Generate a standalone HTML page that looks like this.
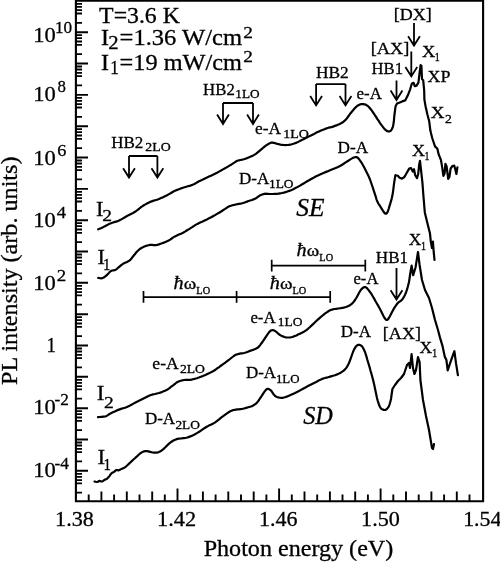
<!DOCTYPE html>
<html><head><meta charset="utf-8"><title>PL intensity vs photon energy</title>
<style>
html,body{margin:0;padding:0;background:#fff}
svg{display:block}
text{font-family:"Liberation Serif","DejaVu Serif",serif;fill:#000;stroke:#000;stroke-width:0.3px}
</style></head><body>
<svg width="500" height="562" viewBox="0 0 500 562">
<rect width="500" height="562" fill="#fff"/>
<path d="M98.2,229.3 L99.0,229.0 L100.1,228.5 L101.5,227.9 L103.0,227.2 L104.8,226.3 L106.8,225.2 L108.9,224.1 L111.0,223.2 L113.0,222.5 L115.0,221.9 L117.0,221.4 L119.0,220.6 L121.0,219.6 L123.0,218.4 L125.0,217.2 L127.0,216.0 L129.0,215.0 L131.0,214.0 L133.0,213.0 L135.0,211.8 L137.0,210.4 L139.0,208.8 L141.0,207.2 L143.0,205.8 L145.0,204.6 L147.0,203.5 L149.0,202.5 L151.0,201.6 L153.0,200.9 L155.0,200.3 L157.0,199.7 L159.0,199.0 L161.0,198.1 L163.0,197.2 L165.0,196.2 L167.0,195.2 L169.0,194.1 L171.0,193.0 L173.0,191.8 L175.0,190.8 L177.0,189.9 L178.9,189.2 L180.9,188.4 L183.0,187.7 L185.4,187.0 L187.9,186.3 L190.4,185.6 L192.6,184.8 L194.4,184.0 L195.9,183.1 L197.4,182.2 L199.0,181.3 L200.9,180.4 L202.9,179.5 L205.0,178.5 L207.0,177.6 L209.0,176.6 L211.0,175.7 L213.0,174.7 L215.0,173.7 L217.0,172.7 L219.0,171.6 L221.0,170.5 L223.0,169.4 L225.0,168.3 L227.1,167.1 L229.1,165.9 L231.0,164.8 L232.7,163.7 L234.3,162.6 L235.8,161.6 L237.4,160.8 L239.0,160.3 L240.6,160.0 L242.2,159.7 L243.8,159.3 L245.4,158.7 L247.1,158.1 L248.7,157.4 L250.2,156.8 L251.5,156.2 L252.7,155.7 L253.8,155.1 L255.0,154.4 L256.2,153.6 L257.4,152.6 L258.6,151.6 L259.8,150.6 L261.0,149.6 L262.2,148.6 L263.4,147.5 L264.6,146.6 L265.8,145.7 L267.1,144.8 L268.3,144.0 L269.4,143.4 L270.3,143.0 L271.0,142.7 L271.7,142.6 L272.6,142.6 L273.7,142.8 L274.8,143.1 L276.1,143.5 L277.4,143.9 L278.9,144.2 L280.5,144.6 L282.2,144.8 L283.8,145.0 L285.4,145.1 L287.0,145.0 L288.6,144.9 L290.2,144.7 L291.8,144.3 L293.4,143.8 L295.0,143.2 L296.6,142.6 L298.2,141.9 L299.7,141.1 L301.3,140.3 L303.0,139.4 L304.9,138.5 L306.9,137.5 L309.0,136.4 L311.0,135.4 L313.0,134.4 L315.0,133.4 L317.0,132.3 L319.0,131.4 L321.0,130.5 L323.1,129.7 L325.1,128.9 L327.0,128.2 L328.6,127.7 L330.0,127.4 L331.4,127.1 L333.0,126.6 L334.9,125.9 L337.1,125.1 L339.2,124.2 L341.0,123.3 L342.4,122.5 L343.6,121.6 L344.7,120.7 L345.8,119.6 L347.0,118.2 L348.2,116.5 L349.4,114.8 L350.6,113.2 L351.8,111.7 L353.1,110.2 L354.3,108.8 L355.4,107.6 L356.5,106.6 L357.4,105.8 L358.4,105.2 L359.4,104.7 L360.4,104.3 L361.4,104.1 L362.4,104.0 L363.4,104.1 L364.4,104.3 L365.4,104.6 L366.4,105.1 L367.4,105.7 L368.4,106.5 L369.3,107.5 L370.3,108.7 L371.4,110.0 L372.5,111.6 L373.7,113.4 L375.0,115.3 L376.2,117.2 L377.4,119.1 L378.7,120.9 L379.9,122.8 L381.0,124.4 L382.1,125.9 L383.1,127.2 L384.1,128.4 L385.0,129.4 L385.9,130.2 L386.7,130.8 L387.4,131.2 L388.2,131.4 L389.0,131.4 L389.8,131.3 L390.5,130.9 L391.2,130.2 L391.8,129.3 L392.4,128.1 L392.9,126.6 L393.3,124.8 L393.7,122.5 L394.0,119.8 L394.2,117.0 L394.5,114.5 L394.8,112.1 L395.1,109.7 L395.4,107.6 L395.6,106.2 L397.0,103.6 L399.8,102.4 L402.2,101.4 L405.2,100.4 L407.6,95.8 L410.0,89.8 L411.8,83.8 L413.6,82.8 L414.8,86.2 L416.6,85.6 L418.4,82.6 L419.6,73.0 L420.6,65.2 L421.4,65.8 L422.0,79.0 L423.2,80.2 L424.2,91.0 L424.4,99.6 L425.6,106.5 L427.4,114.5 L429.2,121.2 L430.4,130.8 L432.2,138.0 L433.2,141.0 L435.0,146.4 L437.4,148.8 L438.6,154.2 L441.0,160.2 L442.2,167.4 L443.4,175.8 L444.6,173.4 L445.4,163.8 L446.6,166.2 L448.2,178.8 L449.4,177.0 L450.6,168.6 L452.4,166.0 L454.2,165.6 L455.4,169.8 L456.4,174.0 L457.4,167.4" fill="none" stroke="#000" stroke-width="2.2" stroke-linejoin="round" stroke-linecap="round"/>
<path d="M98.2,277.9 L98.9,278.0 L100.0,278.2 L101.1,278.3 L102.2,278.2 L103.2,277.8 L104.1,277.3 L105.1,276.5 L106.2,275.7 L107.3,274.6 L108.6,273.3 L109.8,272.0 L111.0,271.0 L112.2,270.5 L113.4,270.3 L114.6,270.1 L115.8,269.7 L117.0,268.8 L118.2,267.7 L119.5,266.6 L120.6,265.6 L121.6,264.8 L122.6,264.1 L123.6,263.5 L124.6,262.9 L125.8,262.4 L127.0,261.9 L128.2,261.3 L129.4,260.6 L130.5,259.6 L131.5,258.5 L132.4,257.2 L133.4,256.0 L134.4,254.8 L135.4,253.5 L136.4,252.3 L137.4,251.2 L138.4,250.3 L139.4,249.4 L140.3,248.7 L141.4,248.0 L142.5,247.4 L143.8,246.8 L145.0,246.3 L146.2,245.9 L147.4,245.5 L148.6,245.2 L149.8,244.9 L151.0,244.8 L152.2,244.9 L153.3,245.1 L154.5,245.2 L155.8,245.2 L157.3,244.9 L158.9,244.4 L160.6,243.8 L162.2,243.2 L163.8,242.6 L165.4,242.0 L167.0,241.3 L168.6,240.5 L170.2,239.6 L171.7,238.5 L173.3,237.4 L175.0,236.4 L176.9,235.5 L178.9,234.6 L181.0,233.7 L183.0,232.7 L185.0,231.6 L187.1,230.3 L189.1,229.1 L191.0,227.9 L192.6,226.9 L194.1,225.9 L195.6,224.9 L197.4,223.9 L199.6,222.8 L202.1,221.7 L204.6,220.5 L207.0,219.4 L209.1,218.3 L211.1,217.3 L213.0,216.2 L215.0,215.1 L217.0,213.9 L219.1,212.7 L221.1,211.5 L223.0,210.3 L224.7,209.2 L226.3,208.1 L227.8,207.1 L229.4,206.3 L231.0,205.7 L232.6,205.2 L234.2,204.9 L235.8,204.5 L237.4,204.2 L239.0,203.9 L240.6,203.7 L242.2,203.3 L243.8,202.8 L245.4,202.2 L247.0,201.6 L248.6,201.0 L250.2,200.5 L251.9,200.0 L253.5,199.4 L255.0,198.8 L256.3,198.0 L257.5,197.2 L258.6,196.3 L259.8,195.6 L261.0,195.0 L262.2,194.5 L263.4,194.1 L264.6,193.8 L265.7,193.7 L266.9,193.8 L268.0,193.9 L269.4,194.0 L271.0,194.0 L272.8,194.0 L274.7,193.9 L276.6,193.8 L278.4,193.6 L280.2,193.3 L282.0,193.0 L283.8,192.6 L285.6,192.1 L287.4,191.5 L289.2,190.9 L291.0,190.2 L292.8,189.4 L294.6,188.5 L296.4,187.6 L298.2,186.6 L300.0,185.6 L301.8,184.5 L303.6,183.5 L305.4,182.4 L307.2,181.3 L309.0,180.3 L310.8,179.2 L312.6,178.2 L314.4,177.3 L316.1,176.3 L318.0,175.4 L320.0,174.5 L322.3,173.5 L324.8,172.4 L327.4,171.4 L330.0,170.3 L332.5,169.3 L335.0,168.3 L337.5,167.2 L340.0,166.0 L342.6,164.5 L345.3,162.7 L347.9,161.0 L350.0,159.6 L351.6,158.6 L352.9,157.9 L354.0,157.5 L355.0,157.2 L355.9,157.1 L356.6,157.1 L357.2,157.4 L358.0,158.0 L358.9,159.0 L359.9,160.3 L361.0,161.9 L362.0,163.5 L363.0,165.2 L364.0,167.1 L365.0,169.0 L366.0,171.0 L367.0,172.9 L367.9,174.8 L368.9,176.9 L370.0,179.5 L371.2,183.0 L372.6,187.0 L373.9,191.1 L375.0,194.4 L375.8,196.8 L376.3,198.6 L376.8,200.1 L377.4,201.6 L378.2,203.2 L379.1,204.7 L380.1,206.2 L381.0,207.6 L381.9,209.1 L382.9,210.7 L383.8,212.0 L384.6,213.0 L385.3,213.5 L385.9,213.8 L386.4,213.6 L387.0,213.0 L387.6,211.9 L388.2,210.4 L388.8,208.5 L389.4,206.4 L390.1,204.1 L390.9,201.4 L391.7,198.6 L392.4,195.6 L392.9,192.3 L393.4,188.8 L393.8,185.3 L394.2,182.4 L394.6,180.0 L394.9,178.0 L395.2,176.4 L395.4,175.2 L397.8,175.8 L399.6,177.8 L402.0,178.6 L404.4,177.0 L406.8,172.8 L409.2,168.6 L411.0,168.0 L412.8,171.6 L414.0,169.2 L415.2,175.2 L417.0,178.2 L418.2,174.0 L419.2,164.4 L420.0,160.8 L421.2,171.6 L422.4,182.4 L423.6,198.0 L424.8,212.4 L427.6,224.0 L430.0,233.6 L430.8,241.6 L432.0,248.0 L432.9,241.6 L433.5,249.6 L434.5,260.0" fill="none" stroke="#000" stroke-width="2.2" stroke-linejoin="round" stroke-linecap="round"/>
<path d="M98.0,417.2 L98.7,417.1 L99.8,417.0 L100.9,416.9 L102.0,416.8 L103.0,416.7 L103.9,416.7 L104.9,416.5 L106.0,416.2 L107.1,415.6 L108.2,414.9 L109.5,414.0 L111.0,413.2 L112.8,412.3 L114.8,411.4 L116.9,410.4 L119.0,409.6 L121.0,408.9 L123.0,408.3 L125.0,407.7 L127.0,407.0 L129.0,406.1 L131.0,405.0 L133.0,403.9 L135.0,402.8 L137.0,401.8 L139.0,400.8 L141.0,399.8 L143.0,398.8 L145.0,397.8 L147.0,396.8 L149.0,395.8 L151.0,395.0 L153.0,394.4 L155.0,394.0 L157.0,393.5 L159.0,393.0 L161.0,392.4 L163.0,391.6 L165.0,390.8 L167.0,389.8 L169.1,388.4 L171.3,386.7 L173.4,385.1 L175.0,383.8 L176.0,383.0 L176.6,382.5 L177.2,382.2 L178.0,381.8 L179.3,381.3 L180.8,380.8 L182.4,380.3 L184.0,380.0 L185.5,379.9 L187.0,379.9 L188.5,379.9 L190.0,379.8 L191.5,379.6 L193.0,379.2 L194.5,378.9 L195.8,378.5 L197.0,378.2 L198.0,377.8 L199.0,377.5 L200.0,377.1 L201.0,376.7 L201.9,376.4 L202.9,376.0 L204.0,375.5 L205.4,374.9 L206.9,374.2 L208.5,373.5 L210.0,372.8 L211.3,372.1 L212.6,371.5 L213.8,370.8 L215.0,370.0 L216.2,369.2 L217.5,368.2 L218.8,367.3 L220.0,366.4 L221.2,365.5 L222.5,364.6 L223.8,363.7 L225.0,362.8 L226.2,361.9 L227.5,360.9 L228.8,360.0 L230.0,359.0 L231.2,358.0 L232.5,357.0 L233.8,356.0 L235.0,355.2 L236.3,354.6 L237.6,354.2 L238.8,353.9 L240.0,353.6 L241.0,353.4 L241.8,353.4 L242.7,353.3 L244.0,353.0 L245.8,352.5 L247.9,351.7 L250.0,350.9 L252.0,350.2 L253.7,349.6 L255.2,349.0 L256.7,348.3 L258.0,347.5 L259.1,346.4 L260.1,345.2 L261.0,343.9 L262.0,342.5 L263.0,341.1 L264.0,339.6 L265.0,338.1 L266.0,336.6 L267.0,335.1 L268.1,333.6 L269.1,332.2 L270.0,331.2 L270.8,330.6 L271.6,330.3 L272.3,330.2 L273.0,330.2 L273.7,330.3 L274.4,330.6 L275.2,331.1 L276.0,331.6 L276.9,332.3 L277.8,333.2 L278.8,334.2 L280.0,335.0 L281.4,335.7 L282.9,336.4 L284.5,337.0 L286.0,337.4 L287.5,337.5 L289.0,337.5 L290.5,337.3 L292.0,337.0 L293.5,336.6 L294.9,336.0 L296.4,335.4 L298.0,334.6 L299.9,333.7 L301.9,332.8 L304.0,331.7 L306.0,330.4 L308.0,328.8 L310.0,327.0 L312.0,325.1 L314.0,323.2 L316.0,321.3 L318.1,319.4 L320.1,317.6 L322.0,316.0 L323.7,314.6 L325.2,313.4 L326.7,312.4 L328.0,311.5 L329.1,310.8 L330.1,310.3 L331.0,309.9 L332.0,309.6 L332.9,309.3 L333.6,309.2 L334.6,309.0 L336.0,308.8 L338.2,308.5 L340.9,308.1 L343.6,307.6 L346.0,307.0 L347.8,306.3 L349.4,305.5 L350.7,304.6 L352.0,303.6 L353.1,302.5 L354.1,301.3 L355.0,300.0 L356.0,298.5 L357.0,296.7 L358.1,294.7 L359.1,292.8 L360.0,291.2 L360.8,290.0 L361.6,289.1 L362.3,288.4 L363.0,287.8 L363.7,287.4 L364.3,287.1 L365.0,287.1 L365.6,287.2 L366.2,287.5 L366.7,287.9 L367.3,288.5 L368.0,289.4 L368.9,290.5 L369.9,291.9 L371.0,293.4 L372.0,295.0 L373.0,296.7 L374.0,298.4 L375.0,300.2 L376.0,302.0 L377.0,303.7 L378.0,305.4 L379.0,307.2 L380.0,309.0 L381.0,311.0 L382.1,313.2 L383.1,315.3 L384.0,317.0 L384.8,318.3 L385.6,319.2 L386.3,319.9 L387.0,320.0 L387.7,319.6 L388.4,318.7 L389.2,317.4 L390.0,316.0 L390.9,314.3 L391.9,312.3 L393.0,310.2 L394.0,308.4 L395.0,306.8 L396.0,305.3 L397.0,304.0 L398.0,302.8 L399.0,302.0 L400.0,301.4 L401.0,300.8 L402.0,299.8 L403.0,298.4 L404.1,296.6 L405.1,294.7 L406.0,292.5 L406.9,289.9 L407.8,286.8 L408.5,284.0 L409.0,282.0 L410.5,272.0 L411.6,265.6 L413.2,275.2 L415.6,267.2 L418.0,252.0 L419.6,265.0 L422.0,280.0 L425.0,290.0 L429.0,298.0 L432.0,308.0 L435.0,320.0 L438.0,330.0 L440.0,337.6 L442.4,345.6 L444.8,356.8 L446.4,360.0 L447.7,370.4 L451.2,360.0 L454.4,351.2 L456.0,363.2 L457.9,375.2" fill="none" stroke="#000" stroke-width="2.2" stroke-linejoin="round" stroke-linecap="round"/>
<path d="M94.5,481.5 L95.0,481.6 L95.7,481.8 L96.5,482.0 L97.2,482.0 L97.8,481.8 L98.4,481.4 L99.0,481.1 L99.6,480.9 L100.2,481.0 L100.8,481.2 L101.4,481.5 L102.0,481.5 L102.6,481.2 L103.2,480.8 L103.8,480.3 L104.4,479.9 L105.0,479.6 L105.6,479.4 L106.2,479.2 L106.8,478.8 L107.4,478.3 L108.0,477.7 L108.6,477.1 L109.2,476.4 L109.8,475.6 L110.4,474.7 L111.0,473.9 L111.6,473.2 L112.2,472.8 L112.8,472.5 L113.4,472.2 L114.0,471.9 L114.6,471.4 L115.2,470.8 L115.8,470.3 L116.4,470.0 L117.0,470.0 L117.6,470.1 L118.1,470.3 L118.8,470.3 L119.5,470.0 L120.3,469.6 L121.2,469.1 L122.0,468.7 L122.8,468.4 L123.5,468.1 L124.3,467.7 L125.2,467.1 L126.2,466.3 L127.4,465.2 L128.6,464.1 L130.0,462.8 L131.5,461.4 L133.2,459.8 L134.9,458.3 L136.4,456.9 L137.7,455.7 L138.9,454.5 L140.1,453.5 L141.2,452.7 L142.3,452.1 L143.2,451.6 L144.2,451.3 L145.2,451.1 L146.2,451.1 L147.1,451.2 L148.1,451.4 L149.2,451.6 L150.3,451.9 L151.5,452.2 L152.8,452.5 L154.0,452.7 L155.2,452.7 L156.4,452.7 L157.6,452.5 L158.8,452.1 L160.0,451.6 L161.1,450.8 L162.3,450.0 L163.6,448.9 L165.1,447.5 L166.7,445.9 L168.4,444.2 L170.0,442.8 L171.5,441.7 L173.0,440.8 L174.5,440.0 L176.0,439.4 L177.5,438.9 L179.1,438.7 L180.6,438.5 L182.0,438.3 L183.1,438.2 L184.1,438.1 L185.0,438.0 L186.0,437.8 L187.2,437.5 L188.4,437.1 L189.7,436.6 L190.8,436.2 L191.7,435.9 L192.4,435.6 L193.1,435.2 L194.0,434.8 L195.0,434.3 L196.1,433.6 L197.3,432.9 L198.8,432.0 L200.6,430.8 L202.6,429.4 L204.7,428.0 L206.8,426.7 L208.8,425.6 L210.8,424.7 L212.8,423.7 L214.8,422.6 L216.8,421.2 L218.8,419.6 L220.8,417.9 L222.8,416.4 L224.9,414.9 L227.0,413.4 L229.0,412.0 L230.8,411.0 L232.3,410.4 L233.5,410.0 L234.7,409.8 L236.0,409.6 L237.4,409.4 L238.8,409.4 L240.3,409.2 L242.0,409.0 L244.0,408.5 L246.2,407.9 L248.3,407.3 L250.0,406.8 L251.1,406.5 L251.8,406.3 L252.3,406.0 L253.0,405.6 L253.9,405.0 L254.9,404.4 L256.0,403.6 L257.0,402.6 L258.0,401.4 L259.0,400.0 L260.0,398.4 L261.0,397.0 L261.9,395.6 L262.8,394.1 L263.7,392.8 L264.5,391.6 L265.3,390.6 L266.1,389.8 L266.8,389.1 L267.6,388.8 L268.4,388.9 L269.3,389.3 L270.2,389.9 L271.0,390.6 L271.8,391.5 L272.5,392.7 L273.3,393.8 L274.0,394.8 L274.7,395.5 L275.3,396.1 L276.0,396.6 L277.0,397.0 L278.2,397.4 L279.7,397.7 L281.3,397.9 L283.0,397.8 L284.9,397.3 L286.9,396.6 L289.0,395.7 L291.0,394.8 L293.0,393.9 L295.0,393.0 L297.0,392.0 L299.0,391.0 L301.0,389.9 L303.0,388.8 L305.0,387.7 L307.0,386.6 L309.0,385.6 L311.1,384.5 L313.1,383.5 L315.0,382.6 L316.7,381.7 L318.2,380.8 L319.7,380.1 L321.0,379.4 L322.1,378.9 L323.0,378.6 L323.9,378.3 L325.0,378.0 L326.3,377.6 L327.8,377.3 L329.3,376.9 L331.0,376.4 L332.9,375.8 L335.0,375.2 L337.1,374.4 L339.0,373.6 L340.7,372.7 L342.2,371.7 L343.7,370.6 L345.0,369.4 L346.1,368.1 L347.1,366.6 L348.0,365.0 L349.0,363.0 L350.0,360.4 L351.1,357.4 L352.1,354.5 L353.0,352.0 L353.8,350.1 L354.6,348.6 L355.3,347.4 L356.0,346.4 L356.8,345.6 L357.5,345.1 L358.2,344.9 L359.0,344.8 L359.8,344.9 L360.5,345.2 L361.2,345.6 L362.0,346.4 L362.8,347.4 L363.5,348.7 L364.2,350.2 L365.0,352.0 L365.7,354.1 L366.5,356.6 L367.2,359.3 L368.0,362.0 L368.9,364.9 L369.8,367.9 L370.6,371.0 L371.5,374.0 L372.3,377.0 L373.1,380.0 L373.8,383.0 L374.5,386.0 L375.1,389.1 L375.8,392.2 L376.4,395.2 L377.0,398.0 L377.7,400.6 L378.5,403.1 L379.2,405.3 L380.0,407.0 L380.8,408.2 L381.5,408.9 L382.2,409.3 L383.0,409.6 L383.8,409.9 L384.5,410.0 L385.2,409.9 L386.0,409.6 L386.8,409.0 L387.6,408.2 L388.3,407.2 L389.0,406.0 L389.6,404.3 L390.2,402.3 L390.7,400.3 L391.0,399.0 L392.4,389.0 L395.0,385.0 L398.0,381.0 L401.0,378.0 L404.0,374.0 L407.0,365.0 L409.0,363.0 L410.0,368.0 L411.6,354.0 L413.0,368.0 L414.4,374.0 L416.0,370.0 L418.0,357.0 L419.6,362.0 L420.4,380.0 L423.0,400.0 L426.0,416.0 L429.0,430.0 L431.0,442.0 L432.0,448.0 L433.0,449.0 L434.0,444.0" fill="none" stroke="#000" stroke-width="2.2" stroke-linejoin="round" stroke-linecap="round"/>
<path d="M75.9,501.3 V0.8 H483.1 V501.3 Z" fill="none" stroke="#000" stroke-width="2.1" stroke-linejoin="miter"/>
<path d="M76,470.8 H88 M76,439.5 H88 M76,408.2 H88 M76,376.8 H88 M76,345.5 H88 M76,314.2 H88 M76,282.8 H88 M76,251.5 H88 M76,220.2 H88 M76,188.9 H88 M76,157.5 H88 M76,126.2 H88 M76,94.9 H88 M76,63.5 H88 M76,32.2 H88" stroke="#000" stroke-width="1.9" fill="none"/>
<path d="M76,473.8 H82 M76,476.8 H82 M76,480.1 H82 M76,483.4 H82 M76,492.7 H82 M76,442.5 H82 M76,445.5 H82 M76,448.8 H82 M76,452.1 H82 M76,461.4 H82 M76,411.2 H82 M76,414.2 H82 M76,417.5 H82 M76,420.8 H82 M76,430.1 H82 M76,379.8 H82 M76,382.8 H82 M76,386.1 H82 M76,389.4 H82 M76,398.7 H82 M76,348.5 H82 M76,351.5 H82 M76,354.8 H82 M76,358.1 H82 M76,367.4 H82 M76,317.2 H82 M76,320.2 H82 M76,323.5 H82 M76,326.8 H82 M76,336.1 H82 M76,285.8 H82 M76,288.8 H82 M76,292.1 H82 M76,295.4 H82 M76,304.7 H82 M76,254.5 H82 M76,257.5 H82 M76,260.8 H82 M76,264.1 H82 M76,273.4 H82 M76,223.2 H82 M76,226.2 H82 M76,229.5 H82 M76,232.8 H82 M76,242.1 H82 M76,191.9 H82 M76,194.9 H82 M76,198.2 H82 M76,201.5 H82 M76,210.8 H82 M76,160.5 H82 M76,163.5 H82 M76,166.8 H82 M76,170.1 H82 M76,179.4 H82 M76,129.2 H82 M76,132.2 H82 M76,135.5 H82 M76,138.8 H82 M76,148.1 H82 M76,97.9 H82 M76,100.9 H82 M76,104.2 H82 M76,107.5 H82 M76,116.8 H82 M76,66.5 H82 M76,69.5 H82 M76,72.8 H82 M76,76.1 H82 M76,85.4 H82 M76,35.2 H82 M76,38.2 H82 M76,41.5 H82 M76,44.8 H82 M76,54.1 H82 M76,3.9 H82 M76,6.9 H82 M76,10.2 H82 M76,13.5 H82 M76,22.8 H82" stroke="#000" stroke-width="1.8" fill="none"/>
<path d="M88.7,501 V494.5 M101.4,501 V491.6 M114.1,501 V494.5 M126.8,501 V491.6 M139.5,501 V494.5 M152.2,501 V491.6 M164.8,501 V494.5 M177.5,501 V488.6 M190.2,501 V494.5 M202.9,501 V491.6 M215.6,501 V494.5 M228.3,501 V491.6 M241.0,501 V494.5 M253.7,501 V491.6 M266.4,501 V494.5 M279.1,501 V488.6 M291.8,501 V494.5 M304.5,501 V491.6 M317.2,501 V494.5 M329.9,501 V491.6 M342.5,501 V494.5 M355.2,501 V491.6 M367.9,501 V494.5 M380.6,501 V488.6 M393.3,501 V494.5 M406.0,501 V491.6 M418.7,501 V494.5 M431.4,501 V491.6 M444.1,501 V494.5 M456.8,501 V491.6 M469.5,501 V494.5" stroke="#000" stroke-width="1.9" fill="none"/>
<text x="55.11" y="525.90" font-size="22" textLength="38.77" lengthAdjust="spacingAndGlyphs">1.38</text>
<text x="157.09" y="525.90" font-size="22" textLength="39.18" lengthAdjust="spacingAndGlyphs">1.42</text>
<text x="259.12" y="525.90" font-size="22" textLength="38.50" lengthAdjust="spacingAndGlyphs">1.46</text>
<text x="361.11" y="525.90" font-size="22" textLength="38.77" lengthAdjust="spacingAndGlyphs">1.50</text>
<text x="463.14" y="525.90" font-size="22" textLength="38.23" lengthAdjust="spacingAndGlyphs">1.54</text>
<text x="203.67" y="556.00" font-size="24" textLength="189.60" lengthAdjust="spacingAndGlyphs">Photon energy (eV)</text>
<text x="33.18" y="41.80" font-size="22" textLength="22.51" lengthAdjust="spacingAndGlyphs">10</text>
<text x="55.03" y="32.60" font-size="17.5" textLength="17.19" lengthAdjust="spacingAndGlyphs">10</text>
<text x="33.18" y="100.80" font-size="22" textLength="22.51" lengthAdjust="spacingAndGlyphs">10</text>
<text x="57.40" y="91.50" font-size="17.5" textLength="8.40" lengthAdjust="spacingAndGlyphs">8</text>
<text x="33.18" y="165.00" font-size="22" textLength="22.51" lengthAdjust="spacingAndGlyphs">10</text>
<text x="57.22" y="156.00" font-size="17.5" textLength="9.10" lengthAdjust="spacingAndGlyphs">6</text>
<text x="33.18" y="226.80" font-size="22" textLength="22.51" lengthAdjust="spacingAndGlyphs">10</text>
<text x="56.80" y="217.80" font-size="17.5" textLength="9.26" lengthAdjust="spacingAndGlyphs">4</text>
<text x="33.18" y="289.50" font-size="22" textLength="22.51" lengthAdjust="spacingAndGlyphs">10</text>
<text x="56.76" y="280.50" font-size="17.5" textLength="9.45" lengthAdjust="spacingAndGlyphs">2</text>
<text x="33.18" y="414.00" font-size="22" textLength="22.51" lengthAdjust="spacingAndGlyphs">10</text>
<text x="54.58" y="404.80" font-size="17.5" textLength="14.35" lengthAdjust="spacingAndGlyphs">-2</text>
<text x="33.18" y="477.20" font-size="22" textLength="22.51" lengthAdjust="spacingAndGlyphs">10</text>
<text x="54.58" y="468.50" font-size="17.5" textLength="14.42" lengthAdjust="spacingAndGlyphs">-4</text>
<text x="46.38" y="352.20" font-size="22" textLength="9.50" lengthAdjust="spacingAndGlyphs">1</text>
<text transform="rotate(-90)" x="-384.93" y="17.3" font-size="24" textLength="228.40" lengthAdjust="spacingAndGlyphs">PL intensity (arb. units)</text>
<text x="99.11" y="23.30" font-size="22.6" textLength="80.74" lengthAdjust="spacingAndGlyphs">T=3.6 K</text>
<text x="101.02" y="44.90" font-size="22.6" textLength="7.99" lengthAdjust="spacingAndGlyphs">I</text>
<text x="108.26" y="49.20" font-size="18.5" textLength="10.36" lengthAdjust="spacingAndGlyphs">2</text>
<text x="119.58" y="44.90" font-size="22.6" textLength="122.44" lengthAdjust="spacingAndGlyphs">=1.36 W/cm</text>
<text x="243.21" y="38.00" font-size="17.3" textLength="9.66" lengthAdjust="spacingAndGlyphs">2</text>
<text x="101.02" y="69.50" font-size="22.6" textLength="7.99" lengthAdjust="spacingAndGlyphs">I</text>
<text x="110.30" y="74.30" font-size="18.5" textLength="8.54" lengthAdjust="spacingAndGlyphs">1</text>
<text x="119.59" y="69.50" font-size="22.6" textLength="122.32" lengthAdjust="spacingAndGlyphs">=19 mW/cm</text>
<text x="243.21" y="62.30" font-size="17.3" textLength="9.66" lengthAdjust="spacingAndGlyphs">2</text>
<text x="111.20" y="147.50" font-size="17" textLength="32.17" lengthAdjust="spacingAndGlyphs">HB2</text>
<text x="145.32" y="151.00" font-size="12" textLength="25.35" lengthAdjust="spacingAndGlyphs">2LO</text>
<text x="203.11" y="95.00" font-size="17" textLength="31.75" lengthAdjust="spacingAndGlyphs">HB2</text>
<text x="235.30" y="98.00" font-size="12" textLength="24.25" lengthAdjust="spacingAndGlyphs">1LO</text>
<text x="315.99" y="78.10" font-size="17" textLength="32.80" lengthAdjust="spacingAndGlyphs">HB2</text>
<text x="356.58" y="99.40" font-size="17" textLength="25.33" lengthAdjust="spacingAndGlyphs">e-A</text>
<text x="255.06" y="134.30" font-size="17" textLength="25.95" lengthAdjust="spacingAndGlyphs">e-A</text>
<text x="283.33" y="137.90" font-size="12" textLength="25.64" lengthAdjust="spacingAndGlyphs">1LO</text>
<text x="239.00" y="183.80" font-size="17" textLength="30.29" lengthAdjust="spacingAndGlyphs">D-A</text>
<text x="268.98" y="188.30" font-size="12" textLength="24.57" lengthAdjust="spacingAndGlyphs">1LO</text>
<text x="337.49" y="153.00" font-size="17" textLength="30.60" lengthAdjust="spacingAndGlyphs">D-A</text>
<text x="421.99" y="56.60" font-size="17" textLength="13.31" lengthAdjust="spacingAndGlyphs">X</text>
<text x="434.65" y="60.80" font-size="11.8" textLength="4.99" lengthAdjust="spacingAndGlyphs">1</text>
<text x="427.61" y="82.40" font-size="17" textLength="22.87" lengthAdjust="spacingAndGlyphs">XP</text>
<text x="430.72" y="118.40" font-size="17" textLength="13.75" lengthAdjust="spacingAndGlyphs">X</text>
<text x="445.04" y="123.40" font-size="12.3" textLength="6.86" lengthAdjust="spacingAndGlyphs">2</text>
<text x="412.10" y="156.00" font-size="17" textLength="13.10" lengthAdjust="spacingAndGlyphs">X</text>
<text x="424.60" y="160.40" font-size="11.8" textLength="4.99" lengthAdjust="spacingAndGlyphs">1</text>
<text x="393.67" y="20.00" font-size="17" textLength="38.06" lengthAdjust="spacingAndGlyphs">[DX]</text>
<text x="370.65" y="54.00" font-size="17" textLength="38.70" lengthAdjust="spacingAndGlyphs">[AX]</text>
<text x="371.51" y="74.00" font-size="17" textLength="31.46" lengthAdjust="spacingAndGlyphs">HB1</text>
<text x="296.24" y="216.40" font-size="24.3" font-style="italic" textLength="28.22" lengthAdjust="spacingAndGlyphs">SE</text>
<text x="96.03" y="215.60" font-size="21.7" textLength="7.43" lengthAdjust="spacingAndGlyphs">I</text>
<text x="102.24" y="220.90" font-size="17.5" textLength="9.80" lengthAdjust="spacingAndGlyphs">2</text>
<text x="97.53" y="263.60" font-size="21.7" textLength="7.43" lengthAdjust="spacingAndGlyphs">I</text>
<text x="103.12" y="269.70" font-size="17.5" textLength="7.44" lengthAdjust="spacingAndGlyphs">1</text>
<text x="375.80" y="263.30" font-size="17" textLength="32.30" lengthAdjust="spacingAndGlyphs">HB1</text>
<text x="408.82" y="245.30" font-size="17" textLength="12.57" lengthAdjust="spacingAndGlyphs">X</text>
<text x="420.95" y="249.50" font-size="11.8" textLength="4.99" lengthAdjust="spacingAndGlyphs">1</text>
<text x="353.49" y="283.80" font-size="17" textLength="24.92" lengthAdjust="spacingAndGlyphs">e-A</text>
<text x="382.87" y="338.80" font-size="17" textLength="38.06" lengthAdjust="spacingAndGlyphs">[AX]</text>
<text x="419.61" y="352.80" font-size="17" textLength="12.67" lengthAdjust="spacingAndGlyphs">X</text>
<text x="431.90" y="356.50" font-size="11.8" textLength="5.27" lengthAdjust="spacingAndGlyphs">1</text>
<text x="340.80" y="337.40" font-size="17" textLength="30.29" lengthAdjust="spacingAndGlyphs">D-A</text>
<text x="250.38" y="322.50" font-size="17" textLength="25.23" lengthAdjust="spacingAndGlyphs">e-A</text>
<text x="277.88" y="326.00" font-size="12" textLength="24.68" lengthAdjust="spacingAndGlyphs">1LO</text>
<text x="245.90" y="378.00" font-size="17" textLength="30.19" lengthAdjust="spacingAndGlyphs">D-A</text>
<text x="275.93" y="383.00" font-size="12" textLength="23.61" lengthAdjust="spacingAndGlyphs">1LO</text>
<text x="152.35" y="369.40" font-size="17" textLength="26.46" lengthAdjust="spacingAndGlyphs">e-A</text>
<text x="179.93" y="373.40" font-size="12" textLength="25.03" lengthAdjust="spacingAndGlyphs">2LO</text>
<text x="144.90" y="424.20" font-size="17" textLength="30.29" lengthAdjust="spacingAndGlyphs">D-A</text>
<text x="175.44" y="428.70" font-size="12" textLength="24.51" lengthAdjust="spacingAndGlyphs">2LO</text>
<text x="303.15" y="423.90" font-size="24.3" font-style="italic" textLength="29.64" lengthAdjust="spacingAndGlyphs">SD</text>
<text x="96.66" y="400.10" font-size="21.7" textLength="7.68" lengthAdjust="spacingAndGlyphs">I</text>
<text x="103.99" y="407.60" font-size="17.5" textLength="9.80" lengthAdjust="spacingAndGlyphs">2</text>
<text x="97.46" y="463.60" font-size="21.7" textLength="7.68" lengthAdjust="spacingAndGlyphs">I</text>
<text x="103.52" y="469.90" font-size="17.5" textLength="7.44" lengthAdjust="spacingAndGlyphs">1</text>
<text x="173.53" y="289.00" font-size="18" font-style="italic" textLength="10.08" lengthAdjust="spacingAndGlyphs">ħ</text>
<text x="183.87" y="289.00" font-size="17" textLength="12.53" lengthAdjust="spacingAndGlyphs">ω</text>
<text x="196.34" y="294.20" font-size="10" textLength="13.80" lengthAdjust="spacingAndGlyphs">LO</text>
<text x="296.53" y="255.70" font-size="18" font-style="italic" textLength="10.08" lengthAdjust="spacingAndGlyphs">ħ</text>
<text x="306.87" y="255.70" font-size="17" textLength="12.53" lengthAdjust="spacingAndGlyphs">ω</text>
<text x="319.34" y="260.90" font-size="10" textLength="13.80" lengthAdjust="spacingAndGlyphs">LO</text>
<text x="269.73" y="289.00" font-size="18" font-style="italic" textLength="10.08" lengthAdjust="spacingAndGlyphs">ħ</text>
<text x="280.07" y="289.00" font-size="17" textLength="12.53" lengthAdjust="spacingAndGlyphs">ω</text>
<text x="292.54" y="294.20" font-size="10" textLength="13.80" lengthAdjust="spacingAndGlyphs">LO</text>
<path d="M143.5,297.1 H330.2 M143.5,291 V302.8 M236.6,291 V302.8 M330.2,291 V302.8 M271.7,265.7 H365.3 M271.7,259.7 V271.5 M365.3,259.7 V271.5" stroke="#000" stroke-width="1.7" fill="none"/>
<path d="M129,156 H157.4 M129,156 V177.6 M123.1,168.2 L129,177.6 L134.9,168.2 M157.4,156 V177.6 M151.5,168.2 L157.4,177.6 L163.3,168.2 M223,103 H253 M223,103 V124 M217.1,114.6 L223,124 L228.9,114.6 M253,103 V124 M247.1,114.6 L253,124 L258.9,114.6 M316.1,84.1 H345.5 M316.1,84.1 V105.4 M310.20000000000005,96.0 L316.1,105.4 L322.0,96.0 M345.5,84.1 V105.4 M339.6,96.0 L345.5,105.4 L351.4,96.0 M414,23 V45.6 M408.1,36.2 L414,45.6 L419.9,36.2 M411.3,51.6 V76.4 M405.40000000000003,67.0 L411.3,76.4 L417.2,67.0 M396.5,80.5 V100 M390.6,90.6 L396.5,100 L402.4,90.6 M396.5,268 V299.6 M390.6,290.20000000000005 L396.5,299.6 L402.4,290.20000000000005" stroke="#000" stroke-width="1.8" fill="none" stroke-linejoin="miter" stroke-linecap="butt"/>
</svg>
</body></html>
